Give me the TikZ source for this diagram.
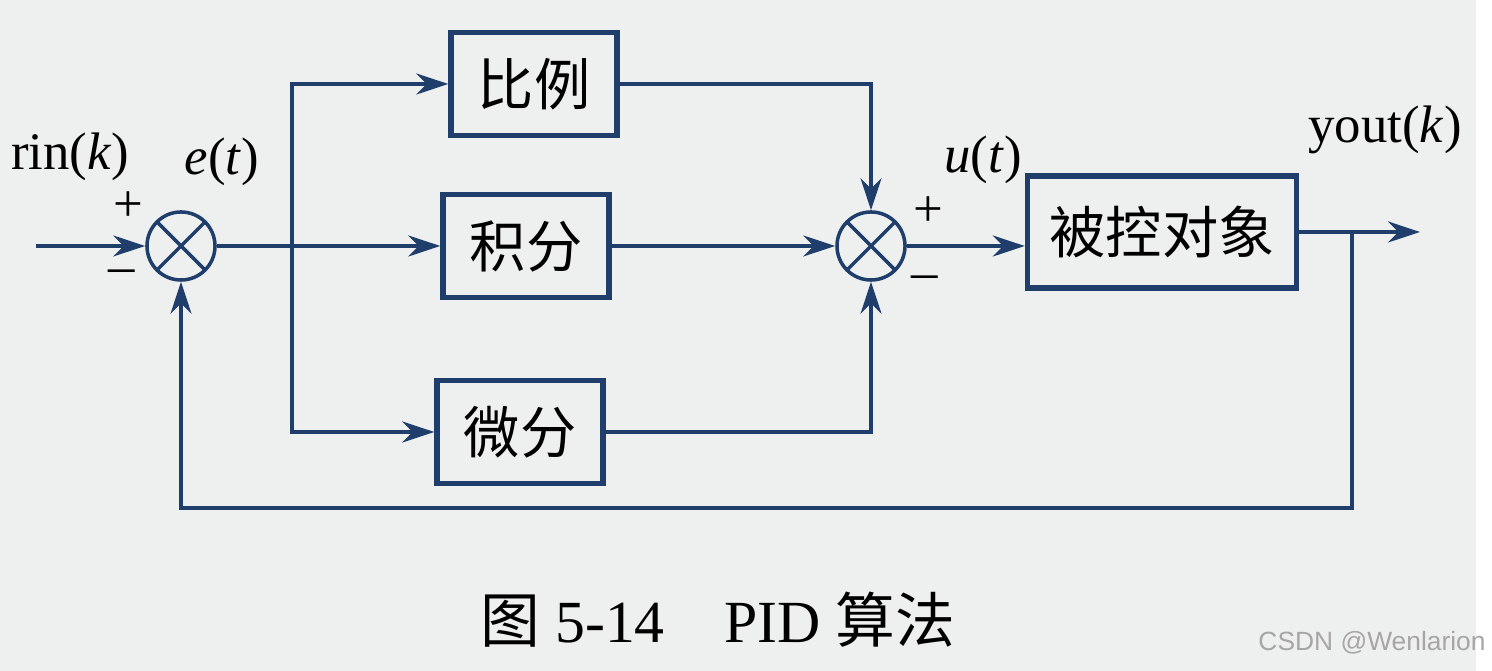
\documentclass[tikz,border=0pt]{standalone}
\usepackage{fontspec}
\setmainfont{Liberation Serif}
\newfontfamily\cjk{Noto Sans CJK SC}
\newfontfamily\wmfont{Liberation Sans}
\usetikzlibrary{arrows.meta}
\definecolor{ink}{RGB}{32,62,108}
\definecolor{paper}{RGB}{238,240,239}
\tikzset{blk/.style={draw=ink,line width=1.5pt,minimum width=1.66cm,minimum height=1.03cm,
           inner sep=0pt,font=\cjk\fontsize{16}{16}\selectfont},
         sum/.style={circle,draw=ink,line width=1pt,minimum size=.68cm,inner sep=0pt,
           path picture={\draw[ink,line width=1pt]
             (path picture bounding box.north west)--(path picture bounding box.south east)
             (path picture bounding box.north east)--(path picture bounding box.south west);}},
         sig/.style={-{Stealth[length=3.2mm,width=2.1mm]},line width=.95pt,ink},
         lbl/.style={font=\fontsize{15}{15}\selectfont}}

\begin{document}
\begin{tikzpicture}[x=.01cm,y=-.01cm]
  \useasboundingbox (0,0) rectangle (1492,671);
  \fill[white] (0,0) rectangle (1492,671);
  \fill[paper] (0,0) rectangle (1476,671);
  \node[sum] (s1) at (181,246) {};
  \node[sum] (s2) at (871,246) {};
  \node[blk] (P) at (534,84) {比例};
  \node[blk] (I) at (526,246) {积分};
  \node[blk] (D) at (520,432) {微分};
  \node[blk,minimum width=2.69cm,minimum height=1.12cm] (G) at (1162,232) {被控对象};
  \coordinate (in) at (36,246);
  \coordinate (br) at (292,246);
  \coordinate (fb) at (1352,232);
  \coordinate (out) at (1420,232);
  \draw[sig] (in) -- (s1.west);
  \draw[sig] (s1.east) -- (I.west);
  \draw[sig] (br) |- (P.west);
  \draw[sig] (br) |- (D.west);
  \draw[sig] (P.east) -| (s2.north);
  \draw[sig] (I.east) -- (s2.west);
  \draw[sig] (D.east) -| (s2.south);
  \draw[sig] (s2.east) -- (G.west |- s2.east);
  \draw[sig] (G.east) -- (out);
  \draw[sig] (fb) -- ++(0,276) -| (s1.south);
  \node[lbl] (rin) at (70,157) {rin(\textit{k})};
  \node[lbl] (e) at (222,162) {\textit{e}(\textit{t})};
  \node[lbl] (p1) at (128,207) {+};
  \node[lbl] (m1) at (122,277) {\textendash};
  \node[lbl] (u) at (983,160) {\textit{u}(\textit{t})};
  \node[lbl] (p2) at (928,212) {+};
  \node[lbl] (m2) at (925,283) {\textendash};
  \node[lbl] (y) at (1385,130) {yout(\textit{k})};
  \node[font=\fontsize{17}{17}\selectfont] (cap) at (718,620) {{\cjk 图} 5-14\quad PID {\cjk 算法}};
  \node[font=\wmfont\fontsize{7.5}{7.5}\selectfont,text=gray!70] (wm) at (1372,643) {CSDN @Wenlarion};
\end{tikzpicture}
\end{document}
